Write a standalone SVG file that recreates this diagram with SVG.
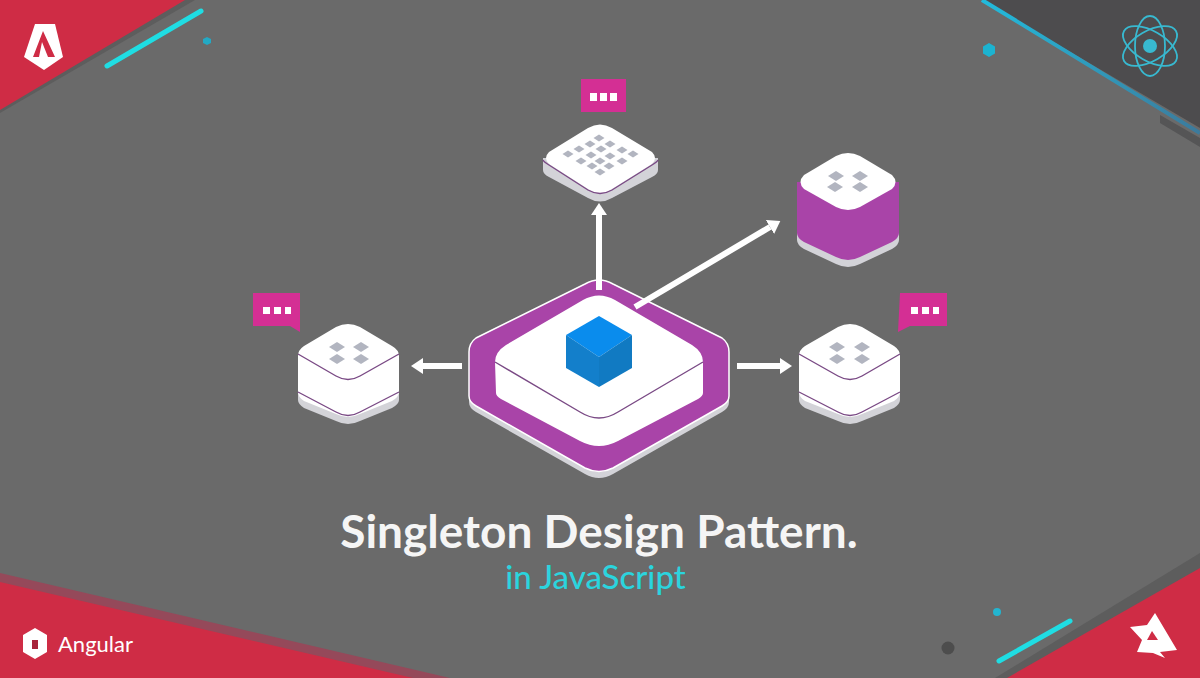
<svg xmlns="http://www.w3.org/2000/svg" width="1200" height="678" viewBox="0 0 1200 678">
<style>
.bg{fill:#6a6a6a}
.red{fill:#cf2c45}
.cy{fill:none;stroke:#1fdde3;stroke-width:5;stroke-linecap:round}
.wh{fill:#fff}
.gr{fill:#d3d3d8}
.pu{fill:#a944a8}
.ln{fill:none;stroke:#7a4a85;stroke-width:1.4}
.dot{fill:#b2b5c0}
.bub{fill:#d42f94}
.sq{fill:#fff}
.con{fill:none;stroke:#fff;stroke-width:6}
.atom{fill:none;stroke:#38b9d0;stroke-width:1.8}
text{font-family:Lato,"Noto Sans",sans-serif}
</style>
<defs>
<linearGradient id="edge" x1="0" y1="0" x2="1" y2="0"><stop offset="0" stop-color="#22bbdc"/><stop offset="1" stop-color="#3c7a9c"/></linearGradient>
<marker id="head" markerUnits="userSpaceOnUse" markerWidth="14" markerHeight="18" refX="0" refY="8" orient="auto"><path d="M0,0L12,8L0,16Z" fill="#fff"/></marker>
<path id="d" d="M-8,0L0,-5L8,0L0,5Z"/>
<path id="ds" d="M-5.500,0L0,-3.600L5.500,0L0,3.600Z"/>
</defs>
<rect class="bg" width="1200" height="678"/>
<g id="corner-top-left">
<path d="M0,113L195,0H0Z" fill="#5d5d5d"/>
<path class="red" d="M0,110L185,0H0Z"/>
<path class="wh" d="M35,24H55L63,57L44,70L24,57Z"/>
<path class="red" d="M43,31L55,57H48L42,42L39,57H33Z"/>
<path class="cy" d="M107,66L201,11"/>
<path d="M207,37L211,39V43L207,45L203,43V39Z" fill="#23a9c4"/>
</g>
<g id="corner-top-right">
<path d="M982,0L1200,128V0Z" fill="#4d4c4e"/>
<path d="M1160,115L1200,138V147L1160,123Z" fill="#555556"/>
<path d="M982,0L1200,133" fill="none" stroke="url(#edge)" stroke-width="4"/>
<path d="M989,43L995,46.500L995,53.500L989,57L983,53.500L983,46.500Z" fill="#1cb3d0"/>
<g class="atom">
<ellipse cx="1150" cy="46" rx="30" ry="15" transform="rotate(90 1150 46)"/>
<ellipse cx="1150" cy="46" rx="30" ry="15" transform="rotate(30 1150 46)"/>
<ellipse cx="1150" cy="46" rx="30" ry="15" transform="rotate(-30 1150 46)"/>
</g>
<circle cx="1150" cy="46" r="7" fill="#38b9d0"/>
</g>
<g id="corner-bottom-left">
<path d="M0,573L450,678H0Z" fill="#95495a"/>
<path class="red" d="M0,582L413,678H0Z"/>
<path class="wh" d="M35,628L47,635V652L35,659L23,652V635Z"/>
<rect x="32" y="640" width="6" height="9" fill="#a8253b"/>
<text x="58" y="652" font-size="22" fill="#fff">Angular</text>
</g>
<g id="corner-bottom-right">
<path d="M995,678L1200,553V678Z" fill="#5d5d5d"/>
<path class="red" d="M1007,678L1200,568V678Z"/>
<path class="wh" d="M1155,613L1177,650L1160,652L1165,658L1153,653L1137,652L1142,640L1130,627L1147,625Z"/>
<path class="red" d="M1152,631L1158,640H1147Z"/>
<path class="cy" d="M999,661L1070,621"/>
<circle cx="997" cy="612" r="4" fill="#23b5d0"/>
<circle cx="948" cy="648" r="6.500" fill="#4d4d4d"/>
</g>
<g id="node-center">
<path class="gr" d="M585,290Q599,282 613,290L722,352Q729,356 729,362L729,402Q729,408 722,412L613,474Q599,482 585,474L476,412Q469,408 469,402L469,362Q469,356 476,352Z"/>
<path class="pu" stroke="#fff" stroke-width="1.500" d="M585,284Q599,276 613,284L722,338Q729,343 729,352L729,396Q729,402 722,406L613,468Q599,475 585,468L476,406Q469,402 469,396L469,352Q469,343 476,338Z"/>
<path class="wh" d="M583,300Q599,291 615,300L692,345Q703,352 703,362L703,393Q703,396 698,399L618,441Q599,451 580,441L501,399Q496,396 496,393L495,362Q495,352 506,345Z"/>
<path class="ln" d="M495,362L580,412Q599,424 618,412L703,362"/>
<path d="M599,316L632,335L599,357L566,335Z" fill="#0a8ced"/>
<path d="M566,335L599,357V387L566,368Z" fill="#137fcb"/>
<path d="M632,335L599,357V387L632,368Z" fill="#117ac2"/>
</g>
<g id="node-top">
<path class="gr" d="M543,158V170Q543,174 549,177L588,198Q600,205 612,198L652,177Q658,174 658,170V158Z"/>
<path class="wh" d="M588,128Q600,121 612,128L652,152Q658,158 652,164L612,189Q600,197 588,189L549,164Q543,158 549,152Z"/>
<path class="ln" d="M543,160Q544,162 549,165L588,190Q600,197 612,190L652,165Q657,162 658,160"/>
<g class="dot">
<use href="#ds" x="599" y="138"/><use href="#ds" x="590" y="144"/><use href="#ds" x="610" y="144"/><use href="#ds" x="579" y="149"/><use href="#ds" x="568" y="154"/><use href="#ds" x="591" y="155"/><use href="#ds" x="601" y="149"/><use href="#ds" x="622" y="150"/><use href="#ds" x="633" y="154"/><use href="#ds" x="610" y="156"/><use href="#ds" x="581" y="161"/><use href="#ds" x="600" y="161"/><use href="#ds" x="622" y="161"/><use href="#ds" x="592" y="166"/><use href="#ds" x="609" y="166"/><use href="#ds" x="600" y="172"/>
</g>
<rect class="bub" x="581" y="79" width="45" height="33"/>
<rect class="sq" x="590" y="93" width="7" height="8"/><rect class="sq" x="600" y="93" width="7" height="8"/><rect class="sq" x="610" y="93" width="7" height="8"/>
</g>
<g id="node-purple">
<path class="gr" d="M797,233V240Q797,245 804,249L836,264Q848,270 860,264L892,249Q899,245 899,240V233Z"/>
<path class="pu" d="M797,182V233Q797,238 804,242L836,257Q848,263 860,257L892,242Q899,238 899,233V182Z"/>
<path class="wh" d="M836,156Q848,150 860,156L892,175Q899,182 892,189L860,207Q848,213 836,207L804,189Q797,182 804,175Z"/>
<g class="dot"><use href="#d" x="836" y="176"/><use href="#d" x="860" y="176"/><use href="#d" x="835" y="187"/><use href="#d" x="860" y="187"/></g>
</g>
<g id="node-left">
<path class="gr" d="M298,392V400Q298,404 304,408L336,421Q348,427 360,421L392,408Q399,404 399,400V392Z"/>
<path class="wh" d="M336,327Q348,321 360,327L392,346Q399,350 399,356V392Q399,397 392,401L360,414Q348,420 336,414L304,401Q298,397 298,392V356Q298,350 304,346Z"/>
<path class="ln" d="M298,354L336,376Q348,383 360,376L399,354"/>
<path class="ln" d="M298,392L336,412Q348,419 360,412L399,392"/>
<g class="dot"><use href="#d" x="337" y="347"/><use href="#d" x="361" y="347"/><use href="#d" x="337" y="359"/><use href="#d" x="361" y="359"/></g>
<path class="bub" d="M253,293H300V332L290,326H253Z"/>
<rect class="sq" x="263" y="307" width="7" height="7"/><rect class="sq" x="274" y="307" width="7" height="7"/><rect class="sq" x="285" y="307" width="6" height="7"/>
</g>
<g id="node-right">
<path class="gr" d="M799,392V400Q799,404 805,408L838,421Q850,427 862,421L894,408Q900,404 900,400V392Z"/>
<path class="wh" d="M838,327Q850,321 862,327L894,346Q900,350 900,356V392Q900,397 894,401L862,414Q850,420 838,414L805,401Q799,397 799,392V356Q799,350 805,346Z"/>
<path class="ln" d="M799,354L838,376Q850,383 862,376L900,354"/>
<path class="ln" d="M799,392L838,412Q850,419 862,412L900,392"/>
<g class="dot"><use href="#d" x="837" y="347"/><use href="#d" x="862" y="347"/><use href="#d" x="837" y="359"/><use href="#d" x="862" y="359"/></g>
<path class="bub" d="M900,293H947V326H910L898,332Z"/>
<rect class="sq" x="911" y="307" width="7" height="7"/><rect class="sq" x="922" y="307" width="7" height="7"/><rect class="sq" x="933" y="307" width="6" height="7"/>
</g>
<g id="connectors">
<path class="con" marker-end="url(#head)" d="M599,290V215"/>
<path class="con" marker-end="url(#head)" d="M635,307L770,227"/>
<path class="con" marker-end="url(#head)" d="M462,366H423"/>
<path class="con" marker-end="url(#head)" d="M737,366H780"/>
</g>
<g id="titles">
<text x="599" y="548" text-anchor="middle" font-size="46" font-weight="700" fill="#f5f5f5">Singleton Design Pattern.</text>
<text x="595.500" y="589" text-anchor="middle" font-size="33" font-weight="500" fill="#2bd4de">in JavaScript</text>
</g>
</svg>
